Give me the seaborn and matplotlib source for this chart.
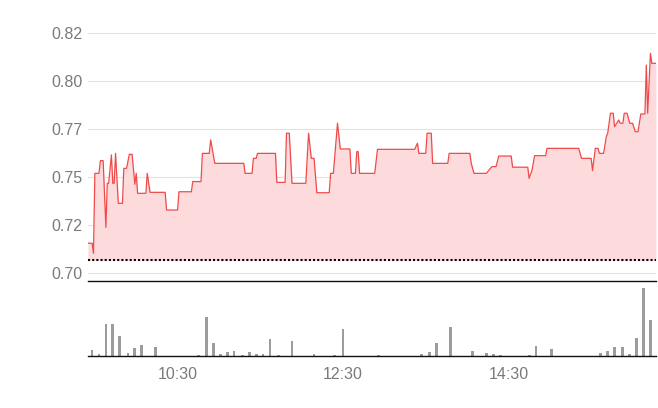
import pandas as pd
import numpy as np
import seaborn as sns
import matplotlib.pyplot as plt

# intraday price (time, last)
times = ["09:25", "09:28", "09:29", "09:30", "09:33", "09:34", "09:36", "09:38", "09:39", "09:40",
         "09:42", "09:43", "09:44", "09:45", "09:47", "09:50", "09:51", "09:53", "09:55", "09:57",
         "09:59", "10:00", "10:01", "10:07", "10:08", "10:10", "10:21", "10:22", "10:30", "10:31",
         "10:40", "10:41", "10:47", "10:48", "10:53", "10:54", "10:57", "11:18", "11:19", "11:24",
         "11:25", "11:27", "11:28", "11:41", "11:42", "11:48", "11:49", "11:51", "11:53", "12:03",
         "12:05", "12:07", "12:09", "12:11", "12:20", "12:21", "12:23", "12:26", "12:27", "12:28",
         "12:35", "12:36", "12:39", "12:40", "12:41", "12:42", "12:53", "12:55", "13:22", "13:24",
         "13:25", "13:30", "13:31", "13:34", "13:35", "13:46", "13:47", "14:02", "14:03", "14:05",
         "14:14", "14:15", "14:18", "14:21", "14:23", "14:32", "14:33", "14:44", "14:45", "14:47",
         "14:49", "14:57", "14:58", "15:21", "15:23", "15:30", "15:31", "15:33", "15:35", "15:36",
         "15:39", "15:41", "15:42", "15:44", "15:46", "15:47", "15:50", "15:51", "15:53", "15:54",
         "15:56", "15:58", "16:00", "16:02", "16:04", "16:06", "16:09", "16:10", "16:11", "16:13",
         "16:14", "16:17"]
prices = [0.7155, 0.7155, 0.7103, 0.7519, 0.7519, 0.7585, 0.7585, 0.7238, 0.7467, 0.7467,
          0.7615, 0.7467, 0.7467, 0.7623, 0.7363, 0.7363, 0.7545, 0.7545, 0.7618, 0.7618,
          0.7462, 0.7519, 0.7415, 0.7415, 0.7519, 0.7420, 0.7420, 0.7328, 0.7328, 0.7423,
          0.7423, 0.7476, 0.7476, 0.7623, 0.7623, 0.7693, 0.7571, 0.7571, 0.7519, 0.7519,
          0.7597, 0.7597, 0.7623, 0.7623, 0.7472, 0.7472, 0.7728, 0.7728, 0.7467, 0.7467,
          0.7728, 0.7597, 0.7597, 0.7418, 0.7418, 0.7519, 0.7519, 0.7780, 0.7714, 0.7646,
          0.7646, 0.7519, 0.7519, 0.7632, 0.7632, 0.7519, 0.7519, 0.7644, 0.7644, 0.7676,
          0.7623, 0.7623, 0.7728, 0.7728, 0.7571, 0.7571, 0.7623, 0.7623, 0.7571, 0.7519,
          0.7519, 0.7528, 0.7554, 0.7554, 0.7609, 0.7609, 0.7551, 0.7551, 0.7493, 0.7533,
          0.7611, 0.7611, 0.7649, 0.7649, 0.7597, 0.7597, 0.7533, 0.7649, 0.7649, 0.7623,
          0.7623, 0.7710, 0.7728, 0.7832, 0.7832, 0.7762, 0.7797, 0.7780, 0.7780, 0.7832,
          0.7832, 0.7780, 0.7780, 0.7736, 0.7736, 0.7828, 0.7828, 0.8083, 0.7832, 0.8144,
          0.8092, 0.8092]
prev_close = 0.7066

# volume bars (thousands)
vol_times = ["09:28", "09:33", "09:38", "09:43", "09:48", "09:54", "09:59", "10:04", "10:14", "10:45",
             "10:51", "10:56", "11:01", "11:06", "11:11", "11:17", "11:22", "11:27", "11:32", "11:37",
             "11:43", "11:53", "12:09", "12:24", "12:30", "12:56", "13:27", "13:33", "13:38", "13:48",
             "14:04", "14:14", "14:19", "14:24", "14:45", "14:50", "15:01", "15:37", "15:42", "15:47",
             "15:53", "15:58", "16:03", "16:08", "16:13"]
volumes = [6.3, 2.3, 32.3, 32.3, 20.3, 3.3, 8.3, 11.3, 9.3, 1.3,
           39.3, 13.3, 2.3, 4.3, 5.3, 1.3, 4.3, 2.3, 2.3, 17.3,
           1.3, 15.3, 2.3, 1.3, 27.3, 1.3, 2.3, 4.3, 13.3, 29.3,
           5.3, 3.3, 2.3, 1.3, 1.3, 10.3, 7.3, 3.3, 5.3, 9.3,
           9.3, 2.3, 18.3, 68.3, 36.3]

tick_times = ["10:30", "12:30", "14:30"]
y_ticks = [0.70, 0.725, 0.75, 0.775, 0.80, 0.825]
y_labels = ["0.70", "0.72", "0.75", "0.77", "0.80", "0.82"]


def to_min(ts):
    return pd.to_timedelta(pd.Series(ts) + ":00").dt.total_seconds() / 60


df = pd.DataFrame({"t": to_min(times), "price": prices})
vol = pd.DataFrame({"t": to_min(vol_times), "volume": volumes})
xlim = (to_min(["09:25"])[0], to_min(["16:17"])[0])

sns.set_style("white")
plt.rcParams["font.family"] = ["Liberation Sans", "DejaVu Sans"]

fig = plt.figure(figsize=(6.58, 4.08), dpi=100)
ax = fig.add_axes([0.1337, 0.3113, 0.8632, 0.6397])
axv = fig.add_axes([0.1337, 0.1267, 0.8632, 0.1846])

grey = "#7a7a7a"

# price pane
ax.fill_between(df["t"], df["price"], prev_close, color="#fddadc", lw=0, zorder=1)
sns.lineplot(data=df, x="t", y="price", ax=ax, color="#ef4a4a", linewidth=0.9, zorder=3)
ax.axhline(prev_close, color="black", lw=1.5, ls=(0, (1, 1)), zorder=4)
ax.set_xlim(xlim)
ax.set_ylim(0.69583, 0.83177)
ax.set_yticks(y_ticks)
ax.set_yticklabels(y_labels)
ax.set_xticks([])
ax.grid(axis="y", color="#e2e2e2", lw=0.8)
ax.set_axisbelow(True)
for s in ax.spines.values():
    s.set_visible(False)
ax.tick_params(axis="y", length=0, pad=3.8, labelsize=11.5, labelcolor=grey)
ax.set_xlabel("")
ax.set_ylabel("")

# volume pane
nat = np.diff(np.sort(vol["t"].unique())).min()
sns.barplot(data=vol, x="t", y="volume", ax=axv, native_scale=True, orient="x",
            color="#9c9c9c", width=2.0 / nat, errorbar=None, saturation=1,
            linewidth=0)
axv.set_xlim(xlim)
axv.set_ylim(0, 75.3)
axv.set_yticks([])
axv.set_xticks(to_min(tick_times))
axv.set_xticklabels(tick_times)
axv.tick_params(axis="x", length=3, width=0.8, color="#b0b0b0", pad=4.5,
                labelsize=11.5, labelcolor=grey)
axv.spines["left"].set_visible(False)
axv.spines["right"].set_visible(False)
for side in ["top", "bottom"]:
    axv.spines[side].set_color("#111111")
    axv.spines[side].set_linewidth(1.0)
axv.set_xlabel("")
axv.set_ylabel("")

fig.savefig("out.png", dpi=100)
